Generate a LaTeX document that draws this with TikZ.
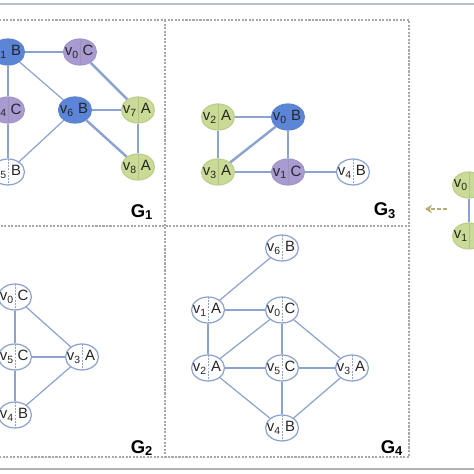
\documentclass[tikz,border=0pt]{standalone}
\usepackage{fontspec}
\setmainfont{Liberation Sans}
\usetikzlibrary{shapes.geometric,positioning,arrows.meta}
\definecolor{vblue}{HTML}{5A85D9}
\definecolor{vpurple}{HTML}{A99BD1}
\definecolor{vgreen}{HTML}{C9DB95}
\definecolor{edgec}{HTML}{8DA3CF}
\definecolor{panelc}{HTML}{A8A8A8}
\definecolor{arrc}{HTML}{BBAA72}
\newcommand{\vlab}[2]{\makebox[0pt][r]{\makebox[3.2mm]{v\textsubscript{#1}}}\makebox[0pt][l]{\makebox[3.2mm]{#2}}}
\newcommand{\glab}[1]{\textbf{G\textsubscript{#1}}}

\begin{document}
\begin{tikzpicture}[x=0.02cm, y=-0.02cm,
	vnode/.style={ellipse, draw=edgec, line width=0.7pt, minimum width=0.66cm, minimum height=0.52cm, inner sep=0pt, text=black!85, font=\fontsize{8.5}{9}\selectfont},
	wnode/.style={vnode, fill=white, path picture={\draw[edgec, line width=0.5pt, dash pattern=on 1pt off 0.8pt] (path picture bounding box.north) -- (path picture bounding box.south);}},
	cnode/.style={vnode, fill=#1, draw=#1!85!gray, path picture={\draw[#1!70!gray, line width=0.5pt] (path picture bounding box.north) -- (path picture bounding box.south);}},
	bnode/.style={cnode=vblue},
	pnode/.style={cnode=vpurple},
	gnode/.style={cnode=vgreen},
	edge/.style={draw=edgec, line width=0.7pt},
	hedge/.style={draw=edgec, line width=1.4pt},
	panel/.style={draw=panelc, line width=0.6pt, dash pattern=on 1.2pt off 0.8pt},
	glabel/.style={font=\fontsize{10.5}{11}\selectfont, text=black}]
	\useasboundingbox (0,0) rectangle (474,474);
	\clip (0,0) rectangle (474,474);
	\draw[draw=black!20!edgec!50, line width=1pt] (0,4) -- (474,4);
	\draw[draw=gray!60, line width=1.3pt] (0,469) -- (474,469);
	\draw[panel] (-10,20) rectangle (409,457);
	\draw[panel] (165,20) -- (165,457);
	\draw[panel] (-10,226) -- (409,226);

	\node[bnode] (g1v1) at (8,52) {\vlab{1}{B}};
	\node[pnode, right of=g1v1, node distance=1.44cm] (g1v0) {\vlab{0}{C}};
	\node[pnode, below of=g1v1, node distance=1.16cm] (g1v4) {\vlab{4}{C}};
	\node[wnode, below of=g1v4, node distance=1.24cm] (g1v5) {\vlab{5}{B}};
	\node[bnode, right of=g1v4, node distance=1.34cm] (g1v6) {\vlab{6}{B}};
	\node[gnode, right of=g1v6, node distance=1.26cm] (g1v7) {\vlab{7}{A}};
	\node[gnode, below of=g1v7, node distance=1.14cm] (g1v8) {\vlab{8}{A}};
	\draw[edge] (g1v1) -- (g1v0);
	\draw[edge] (g1v1) -- (g1v4);
	\draw[edge] (g1v4) -- (g1v5);
	\draw[edge] (g1v1) -- (g1v6);
	\draw[edge] (g1v5) -- (g1v6);
	\draw[hedge] (g1v0) -- (g1v7);
	\draw[hedge] (g1v6) -- (g1v7);
	\draw[hedge] (g1v7) -- (g1v8);
	\draw[hedge] (g1v6) -- (g1v8);
	\node[glabel] (g1) at (142,212) {\glab{1}};

	\node[gnode] (g3v2) at (218,117) {\vlab{2}{A}};
	\node[bnode, right of=g3v2, node distance=1.4cm] (g3v0) {\vlab{0}{B}};
	\node[gnode, below of=g3v2, node distance=1.1cm] (g3v3) {\vlab{3}{A}};
	\node[pnode, right of=g3v3, node distance=1.4cm] (g3v1) {\vlab{1}{C}};
	\node[wnode, right of=g3v1, node distance=1.3cm] (g3v4) {\vlab{4}{B}};
	\draw[hedge] (g3v2) -- (g3v0);
	\draw[hedge] (g3v2) -- (g3v3);
	\draw[hedge] (g3v3) -- (g3v0);
	\draw[hedge] (g3v3) -- (g3v1);
	\draw[edge] (g3v0) -- (g3v1);
	\draw[edge] (g3v1) -- (g3v4);
	\node[glabel] (g3) at (385,211) {\glab{3}};

	\node[wnode] (g2v0) at (15,297) {\vlab{0}{C}};
	\node[wnode, below of=g2v0, node distance=1.2cm] (g2v5) {\vlab{5}{C}};
	\node[wnode, right of=g2v5, node distance=1.34cm] (g2v3) {\vlab{3}{A}};
	\node[wnode, below of=g2v5, node distance=1.16cm] (g2v4) {\vlab{4}{B}};
	\draw[edge] (g2v0) -- (g2v5);
	\draw[edge] (g2v0) -- (g2v3);
	\draw[edge] (g2v5) -- (g2v3);
	\draw[edge] (g2v5) -- (g2v4);
	\draw[edge] (g2v4) -- (g2v3);
	\node[glabel] (g2) at (142,448) {\glab{2}};

	\node[wnode] (g4v0) at (282,310) {\vlab{0}{C}};
	\node[wnode, above of=g4v0, node distance=1.24cm] (g4v6) {\vlab{6}{B}};
	\node[wnode, left of=g4v0, node distance=1.48cm] (g4v1) {\vlab{1}{A}};
	\node[wnode, below of=g4v0, node distance=1.16cm] (g4v5) {\vlab{5}{C}};
	\node[wnode, left of=g4v5, node distance=1.48cm] (g4v2) {\vlab{2}{A}};
	\node[wnode, right of=g4v5, node distance=1.4cm] (g4v3) {\vlab{3}{A}};
	\node[wnode, below of=g4v5, node distance=1.2cm] (g4v4) {\vlab{4}{B}};
	\draw[edge] (g4v6) -- (g4v1);
	\draw[edge] (g4v1) -- (g4v0);
	\draw[edge] (g4v1) -- (g4v2);
	\draw[edge] (g4v2) -- (g4v0);
	\draw[edge] (g4v0) -- (g4v5);
	\draw[edge] (g4v0) -- (g4v3);
	\draw[edge] (g4v2) -- (g4v5);
	\draw[edge] (g4v5) -- (g4v3);
	\draw[edge] (g4v2) -- (g4v4);
	\draw[edge] (g4v5) -- (g4v4);
	\draw[edge] (g4v3) -- (g4v4);
	\node[glabel] (g4) at (392,448) {\glab{4}};

	\node[gnode] (g5v0) at (469,185) {\vlab{0}{}};
	\node[gnode, below of=g5v0, node distance=1.02cm] (g5v1) {\vlab{1}{}};
	\draw[edge] (g5v0) -- (g5v1);
	\coordinate (arrs) at (447,209);
	\coordinate (arre) at (425,209);
	\draw[arrc, line width=0.9pt, dash pattern=on 2pt off 1.5pt, -{Stealth[length=4pt, width=5pt]}] (arrs) -- (arre);
\end{tikzpicture}
\end{document}
